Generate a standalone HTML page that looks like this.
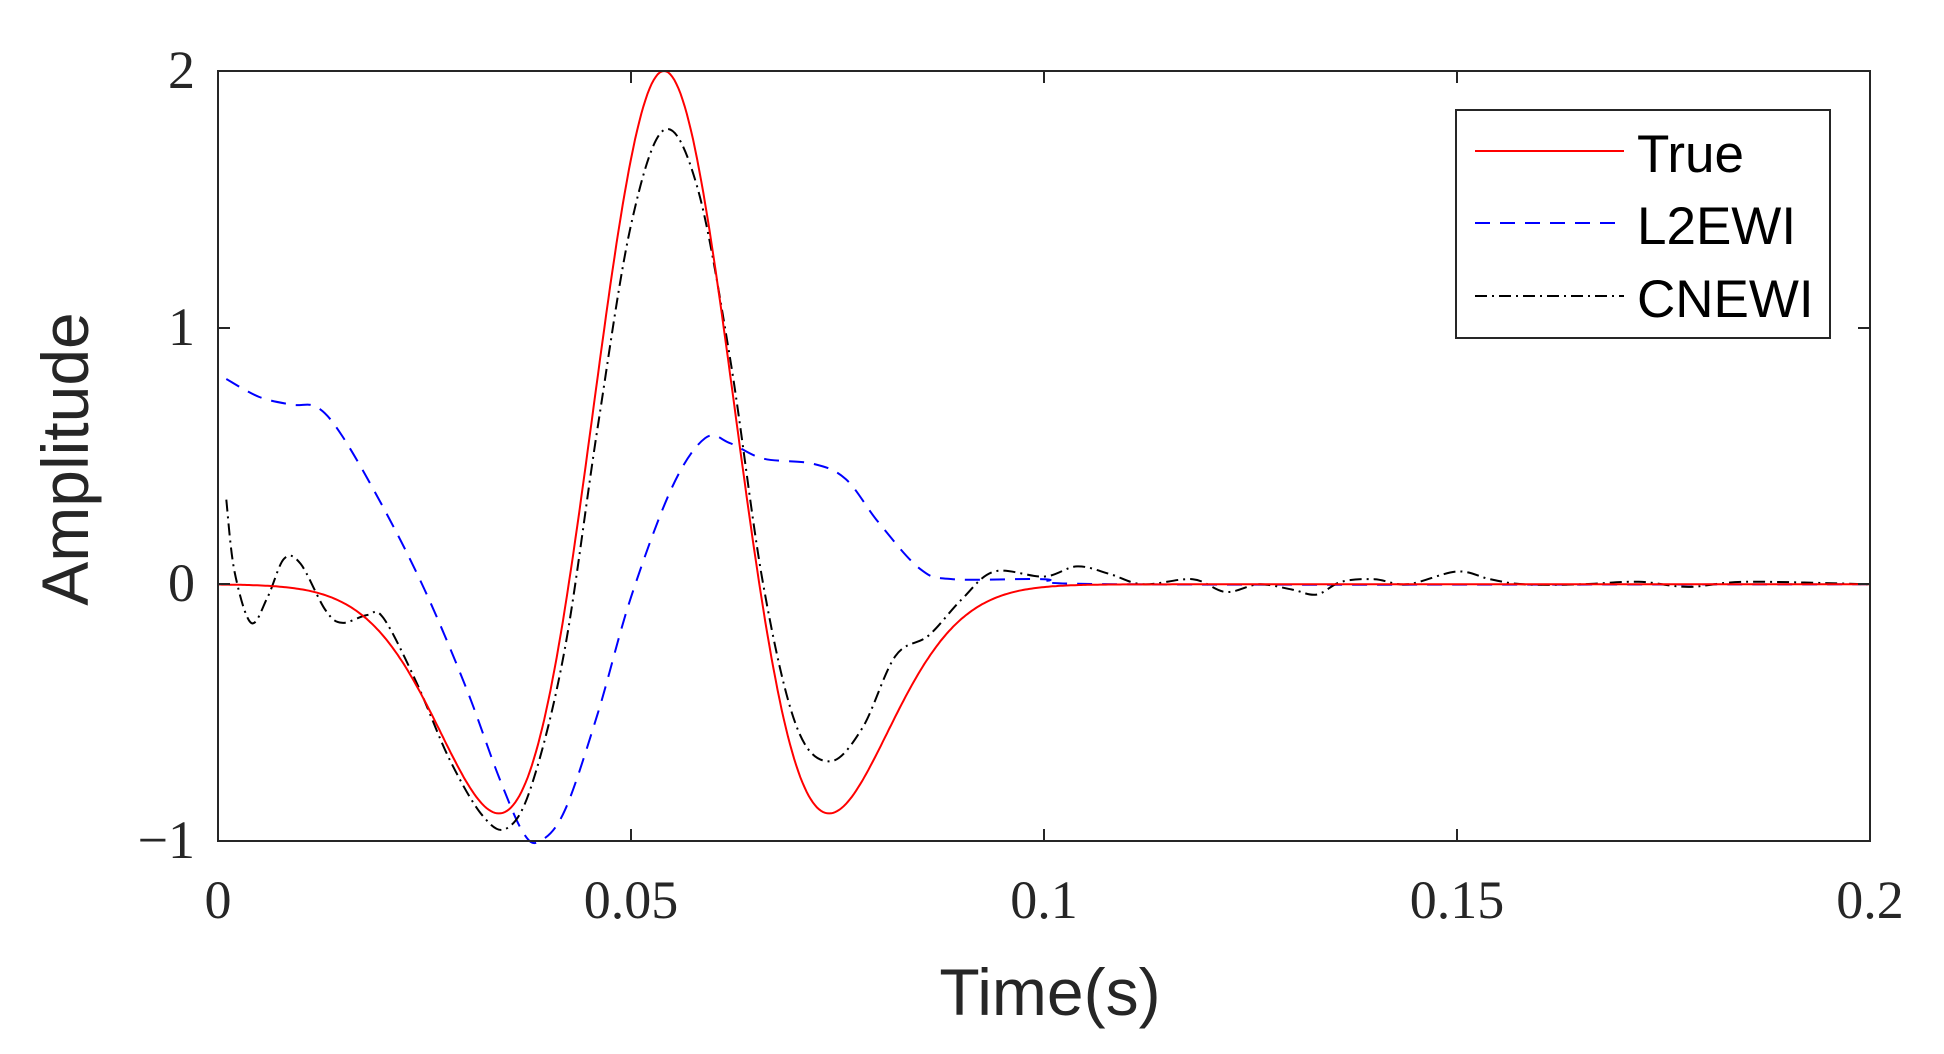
<!DOCTYPE html>
<html><head><meta charset="utf-8"><style>
html,body{margin:0;padding:0;background:#fff;}
svg{display:block;}
.tk{font-family:"Liberation Serif",serif;font-size:54px;fill:#262626;}
.lb{font-family:"Liberation Sans",sans-serif;font-size:66px;fill:#262626;}
.lg{font-family:"Liberation Sans",sans-serif;font-size:53px;fill:#000;}
</style></head><body>
<svg id="s" width="1944" height="1054" viewBox="0 0 1944 1054" xmlns="http://www.w3.org/2000/svg">
<rect width="1944" height="1054" fill="#fff"/>
<g id="curves"></g>
<rect x="218" y="71" width="1652" height="770" fill="none" stroke="#262626" stroke-width="2"/>
<g stroke="#262626" stroke-width="2">
<line x1="631" y1="841" x2="631" y2="829"/><line x1="1044" y1="841" x2="1044" y2="829"/><line x1="1457" y1="841" x2="1457" y2="829"/>
<line x1="631" y1="71" x2="631" y2="83"/><line x1="1044" y1="71" x2="1044" y2="83"/><line x1="1457" y1="71" x2="1457" y2="83"/>
<line x1="218" y1="328" x2="230" y2="328"/><line x1="218" y1="584" x2="230" y2="584"/>
<line x1="1870" y1="328" x2="1858" y2="328"/><line x1="1870" y1="584" x2="1858" y2="584"/>
</g>
<g class="tk" text-anchor="end">
<text x="195" y="88">2</text><text x="195" y="345">1</text><text x="195" y="601">0</text><text x="195" y="858">−1</text>
</g>
<g class="tk" text-anchor="middle">
<text x="218" y="918">0</text><text x="631" y="918">0.05</text><text x="1044" y="918">0.1</text><text x="1457" y="918">0.15</text><text x="1870" y="918">0.2</text>
</g>
<text class="lb" text-anchor="middle" x="1050" y="1015">Time(s)</text>
<text class="lb" text-anchor="middle" transform="translate(88,459) rotate(-90)">Amplitude</text>
<rect x="1456" y="110" width="374" height="228" fill="#fff" stroke="#262626" stroke-width="2"/>
<line x1="1475" y1="151" x2="1624" y2="151" stroke="#f00" stroke-width="2"/>
<line x1="1475" y1="223" x2="1624" y2="223" stroke="#00f" stroke-width="2" stroke-dasharray="15,10"/>
<line x1="1475" y1="296" x2="1624" y2="296" stroke="#000" stroke-width="2" stroke-dasharray="12,5,2,5"/>
<text class="lg" x="1637" y="172">True</text>
<text class="lg" x="1637" y="244">L2EWI</text>
<text class="lg" x="1637" y="317">CNEWI</text>
</svg>
<script>
function X(t){return 218+t/0.2*1652;}
function Y(v){return 71+(2-v)*256.67;}
function smooth(pts){
 var d="M"+X(pts[0][0]).toFixed(1)+","+Y(pts[0][1]).toFixed(1);
 for(var i=0;i<pts.length-1;i++){
  var p0=pts[Math.max(0,i-1)],p1=pts[i],p2=pts[i+1],p3=pts[Math.min(pts.length-1,i+2)];
  var x0=X(p0[0]),y0=Y(p0[1]),x1=X(p1[0]),y1=Y(p1[1]),x2=X(p2[0]),y2=Y(p2[1]),x3=X(p3[0]),y3=Y(p3[1]);
  var c1x=x1+(x2-x0)/6,c1y=y1+(y2-y0)/6,c2x=x2-(x3-x1)/6,c2y=y2-(y3-y1)/6;
  d+=" C"+c1x.toFixed(1)+","+c1y.toFixed(1)+" "+c2x.toFixed(1)+","+c2y.toFixed(1)+" "+x2.toFixed(1)+","+y2.toFixed(1);
 }
 return d;
}
var g=document.getElementById("curves"),ns="http://www.w3.org/2000/svg";
function add(d,col,dash){var p=document.createElementNS(ns,"path");p.setAttribute("d",d);p.setAttribute("fill","none");p.setAttribute("stroke",col);p.setAttribute("stroke-width","2");if(dash)p.setAttribute("stroke-dasharray",dash);g.appendChild(p);}
var blue=[[0.001,0.8],[0.005,0.73],[0.009,0.7],[0.012,0.69],[0.015,0.58],[0.02,0.3],[0.025,-0.02],[0.03,-0.4],[0.034,-0.75],[0.037,-0.97],[0.039,-1.0],[0.042,-0.88],[0.046,-0.5],[0.05,-0.05],[0.055,0.38],[0.059,0.57],[0.062,0.55],[0.066,0.49],[0.072,0.47],[0.076,0.41],[0.08,0.24],[0.085,0.06],[0.089,0.02],[0.1,0.02],[0.11,0.0],[0.2,0]];
add(smooth(blue),"#00f","15,10");
var blk=[[0.001,0.33],[0.002,0.05],[0.004,-0.15],[0.006,-0.05],[0.008,0.1],[0.01,0.08],[0.013,-0.1],[0.015,-0.15],[0.018,-0.12],[0.02,-0.13],[0.024,-0.38],[0.028,-0.68],[0.032,-0.9],[0.035,-0.95],[0.038,-0.78],[0.042,-0.25],[0.046,0.62],[0.05,1.4],[0.054,1.77],[0.058,1.55],[0.062,0.88],[0.066,0.0],[0.07,-0.55],[0.074,-0.69],[0.078,-0.56],[0.082,-0.28],[0.086,-0.2],[0.09,-0.06],[0.094,0.05],[0.1,0.03],[0.104,0.07],[0.108,0.04],[0.112,0.0],[0.118,0.02],[0.122,-0.03],[0.126,0.0],[0.13,-0.02],[0.133,-0.04],[0.136,0.01],[0.14,0.02],[0.144,0.0],[0.15,0.05],[0.154,0.02],[0.158,0.0],[0.165,0.0],[0.172,0.01],[0.178,-0.01],[0.185,0.01],[0.2,0]];
add(smooth(blk),"#000","12,5,2,5");
var d="";for(var i=0;i<=800;i++){var t=0.2*i/800;var a=Math.PI*19.5*(t-0.054);a=a*a;var v=2*(1-2*a)*Math.exp(-a);d+=(i?" L":"M")+X(t).toFixed(1)+","+Y(v).toFixed(1);}
add(d,"#f00",null);
</script>
</body></html>
